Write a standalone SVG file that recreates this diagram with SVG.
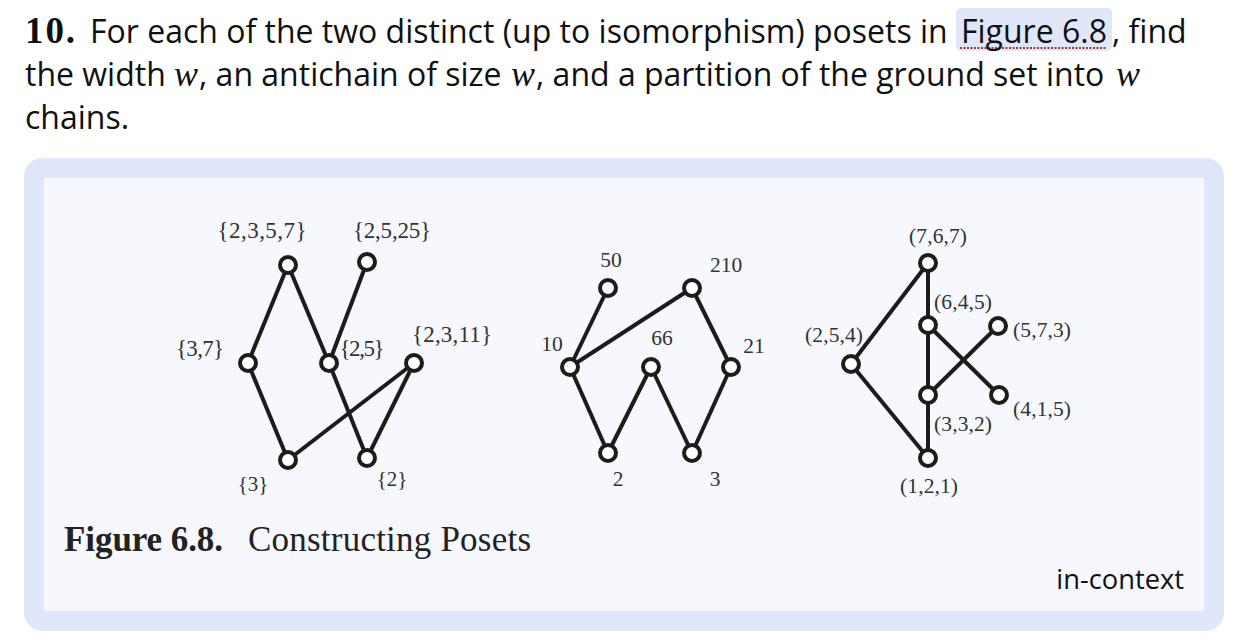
<svg xmlns="http://www.w3.org/2000/svg" width="1250" height="642" viewBox="0 0 1250 642">
<style>
.b{font-family:"Open Sans","Noto Sans",sans-serif;font-size:32px;fill:#111}
.m{font-family:"Liberation Serif",serif;font-style:italic;font-size:36px;fill:#111}
.l{font-family:"Liberation Serif",serif;font-size:21.5px;fill:#333;text-anchor:middle}
.s{font-size:23px}
.t{font-size:21px}
.c{font-family:"Liberation Serif",serif;font-size:35px;fill:#222}
.e line{stroke:#1c1c1c;stroke-width:4}
.n circle{fill:#fff;stroke:#1c1c1c;stroke-width:4;}
</style>
<rect width="1250" height="642" fill="#fff"/>
<g id="text">
<rect x="956" y="8" width="156" height="43" rx="5" fill="#e1e7fb"/>
<line x1="960" y1="48" x2="1107" y2="48" stroke="#a33" stroke-width="2" stroke-dasharray="2 1.5"/>
<text x="25" y="43" font-family="Liberation Serif,serif" font-weight="bold" font-size="37" fill="#111" textLength="50">10.</text>
<text x="90" y="43" class="b">For each of the two distinct (up to isomorphism) posets in</text>
<text x="961" y="43" class="b">Figure 6.8</text>
<text x="1112" y="43" class="b">, find</text>
<text x="25" y="86" class="b">the width</text>
<text x="174" y="86" class="m">w</text>
<text x="199" y="86" class="b">, an antichain of size</text>
<text x="511" y="86" class="m">w</text>
<text x="536" y="86" class="b">, and a partition of the ground set into</text>
<text x="1116" y="86" class="m">w</text>
<text x="25" y="129" class="b">chains.</text>
</g>
<g id="figure-box">
<rect x="24" y="158" width="1200" height="473" rx="18" fill="#e1e7fb"/>
<rect x="44" y="178" width="1160" height="433" fill="#f6f8fe"/>
<text x="64" y="551" class="c" font-weight="bold" textLength="159">Figure 6.8.</text>
<text x="248" y="551" class="c" textLength="283">Constructing Posets</text>
<text x="1184" y="589" font-family="Open Sans,Noto Sans,sans-serif" font-size="27.3" fill="#111" text-anchor="end">in-context</text>
</g>
<g id="connectors" class="e">
<line x1="288" y1="265" x2="248" y2="363"/>
<line x1="288" y1="265" x2="329" y2="363"/>
<line x1="367" y1="262" x2="329" y2="363"/>
<line x1="248" y1="363" x2="288" y2="460"/>
<line x1="329" y1="363" x2="367" y2="458"/>
<line x1="414" y1="363" x2="288" y2="460"/>
<line x1="414" y1="363" x2="367" y2="458"/>
<line x1="608" y1="288" x2="570" y2="367"/>
<line x1="692" y1="288" x2="570" y2="367"/>
<line x1="692" y1="288" x2="731" y2="367"/>
<line x1="570" y1="367" x2="608" y2="453"/>
<line x1="651" y1="367" x2="608" y2="453"/>
<line x1="651" y1="367" x2="692" y2="453"/>
<line x1="731" y1="367" x2="692" y2="453"/>
<line x1="928" y1="263" x2="851" y2="364"/>
<line x1="928" y1="263" x2="928" y2="325"/>
<line x1="928" y1="325" x2="928" y2="395"/>
<line x1="928" y1="325" x2="999" y2="395"/>
<line x1="998" y1="326" x2="928" y2="395"/>
<line x1="928" y1="395" x2="928" y2="458"/>
<line x1="851" y1="364" x2="928" y2="458"/>
</g>
<g id="n-2357" class="n"><circle cx="288" cy="265" r="8"/><text class="l s" x="262" y="238" textLength="89">{2,3,5,7}</text></g>
<g id="n-2525" class="n"><circle cx="367" cy="262" r="8"/><text class="l s" x="392" y="238" textLength="78">{2,5,25}</text></g>
<g id="n-37" class="n"><circle cx="248" cy="363" r="8"/><text class="l s" x="200" y="356" textLength="48">{3,7}</text></g>
<g id="n-25" class="n"><circle cx="329" cy="363" r="8"/><text class="l s" x="362" y="356" textLength="45">{2,5}</text></g>
<g id="n-2311" class="n"><circle cx="414" cy="363" r="8"/><text class="l s" x="452" y="342" textLength="80">{2,3,11}</text></g>
<g id="n-3" class="n"><circle cx="288" cy="460" r="8"/><text class="l t" x="253" y="491">{3}</text></g>
<g id="n-2" class="n"><circle cx="367" cy="458" r="8"/><text class="l t" x="392" y="486">{2}</text></g>
<g id="n-50" class="n"><circle cx="608" cy="288" r="8"/><text class="l" x="611" y="267">50</text></g>
<g id="n-210" class="n"><circle cx="692" cy="288" r="8"/><text class="l" x="726" y="272">210</text></g>
<g id="n-10" class="n"><circle cx="570" cy="367" r="8"/><text class="l" x="552" y="351">10</text></g>
<g id="n-66" class="n"><circle cx="651" cy="367" r="8"/><text class="l" x="662" y="345">66</text></g>
<g id="n-21" class="n"><circle cx="731" cy="367" r="8"/><text class="l" x="754" y="353">21</text></g>
<g id="n-b2" class="n"><circle cx="608" cy="453" r="8"/><text class="l" x="618" y="486">2</text></g>
<g id="n-b3" class="n"><circle cx="692" cy="453" r="8"/><text class="l" x="715" y="486">3</text></g>
<g id="n-767" class="n"><circle cx="928" cy="263" r="8"/><text class="l" x="938" y="243" textLength="58">(7,6,7)</text></g>
<g id="n-645" class="n"><circle cx="928" cy="325" r="8"/><text class="l" x="963" y="309" textLength="58">(6,4,5)</text></g>
<g id="n-573" class="n"><circle cx="998" cy="326" r="8"/><text class="l" x="1042" y="337" textLength="58">(5,7,3)</text></g>
<g id="n-254" class="n"><circle cx="851" cy="364" r="8"/><text class="l" x="834" y="342" textLength="58">(2,5,4)</text></g>
<g id="n-332" class="n"><circle cx="928" cy="395" r="8"/><text class="l" x="963" y="431" textLength="58">(3,3,2)</text></g>
<g id="n-415" class="n"><circle cx="999" cy="395" r="8"/><text class="l" x="1042" y="416" textLength="58">(4,1,5)</text></g>
<g id="n-121" class="n"><circle cx="928" cy="458" r="8"/><text class="l" x="929" y="493" textLength="58">(1,2,1)</text></g>
</svg>
